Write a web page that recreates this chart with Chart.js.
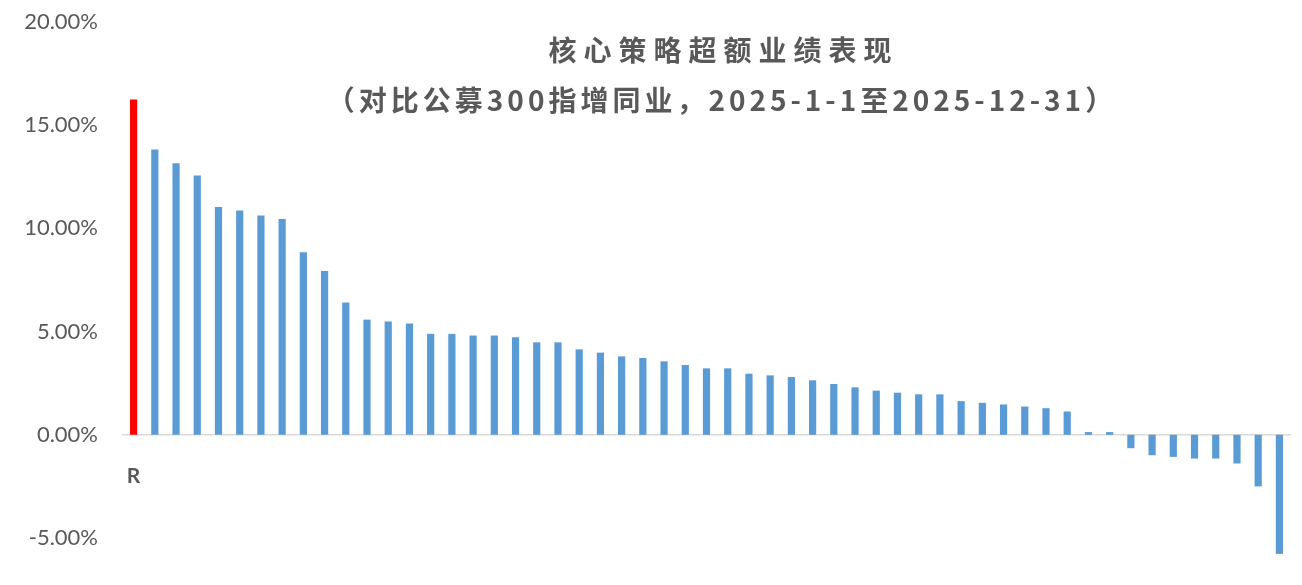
<!DOCTYPE html>
<html>
<head>
<meta charset="utf-8">
<script src="https://cdn.jsdelivr.net/npm/chart.js@4.4.1/dist/chart.umd.min.js"></script>
<style>
  body { margin: 0; background: #fff; }
  #wrap { position: relative; width: 1302px; height: 585px; }
  #title {
    position: absolute; left: 320px; width: 800px; top: 24px;
    text-align: center; color: #595959;
    font-family: "Noto Sans CJK SC", sans-serif; font-weight: bold;
    font-size: 28px; line-height: 50px; pointer-events: none;
  }
  #title .l1 { letter-spacing: 7px; padding-left: 7px; }
  #title .l2 { letter-spacing: 4px; padding-left: 4px; }
</style>
</head>
<body>
<div id="wrap">
  <canvas id="perfChart" width="1302" height="585"></canvas>
  <div id="title">
    <div class="l1">核心策略超额业绩表现</div>
    <div class="l2">（对比公募300指增同业，2025-1-1至2025-12-31）</div>
  </div>
</div>
<script>
// categories: only the first one carries a name
const categories = ['R', '', '', '', '', '', '', '', '', '', '', '', '', '', '', '', '', '', '', '', '', '', '', '', '', '', '', '', '', '', '', '', '', '', '', '', '', '', '', '', '', '', '', '', '', '', '', '', '', '', '', '', '', '', ''];

// excess return, in %
const excessReturn = [16.25,
  13.82, 13.16, 12.56, 11.04, 10.87, 10.62, 10.46, 8.85, 7.93, 6.41,
  5.58, 5.49, 5.39, 4.89, 4.89, 4.81, 4.81, 4.73, 4.48, 4.48,
  4.14, 3.98, 3.80, 3.72, 3.56, 3.38, 3.22, 3.22, 2.96, 2.88,
  2.80, 2.64, 2.46, 2.30, 2.14, 2.04, 1.96, 1.96, 1.63, 1.55,
  1.47, 1.37, 1.29, 1.13, 0.13, 0.13, -0.65, -0.99, -1.07, -1.15,
  -1.15, -1.39, -2.50, -5.77];

const yTicks = [-5, 0, 5, 10, 15, 20];

const barColors = categories.map((c, i) => i === 0 ? '#FF0000' : '#5B9BD5');

const ctx = document.getElementById('perfChart').getContext('2d');
new Chart(ctx, {
  type: 'bar',
  data: {
    labels: categories,
    datasets: [{
      data: excessReturn,
      backgroundColor: barColors,
      categoryPercentage: 1,
      barPercentage: 0.34,
      clip: false
    }]
  },
  options: {
    responsive: false,
    animation: false,
    layout: { padding: { top: 22, right: 12, bottom: 47, left: 0 } },
    plugins: { legend: { display: false }, tooltip: { enabled: false } },
    scales: {
      x: {
        position: { y: 0 },
        afterFit: s => { s.paddingLeft = 0; s.paddingRight = 0; },
        grid: { display: false, drawTicks: false },
        border: { color: '#D9D9D9', width: 1.5 },
        ticks: {
          autoSkip: false, maxRotation: 0, padding: 29,
          color: '#595959', font: { family: 'Lato', size: 21, weight: 'bold' }
        }
      },
      y: {
        min: -5, max: 20,
        afterBuildTicks: s => { s.ticks = yTicks.map(v => ({ value: v })); },
        afterFit: s => { s.width = 123; s.paddingTop = 0; s.paddingBottom = 0; },
        grid: { display: false, drawTicks: false },
        border: { display: false },
        ticks: {
          padding: 25, color: '#595959',
          font: { family: 'Lato', size: 22 },
          callback: v => v.toFixed(2) + '%'
        }
      }
    }
  }
});
</script>
</body>
</html>
